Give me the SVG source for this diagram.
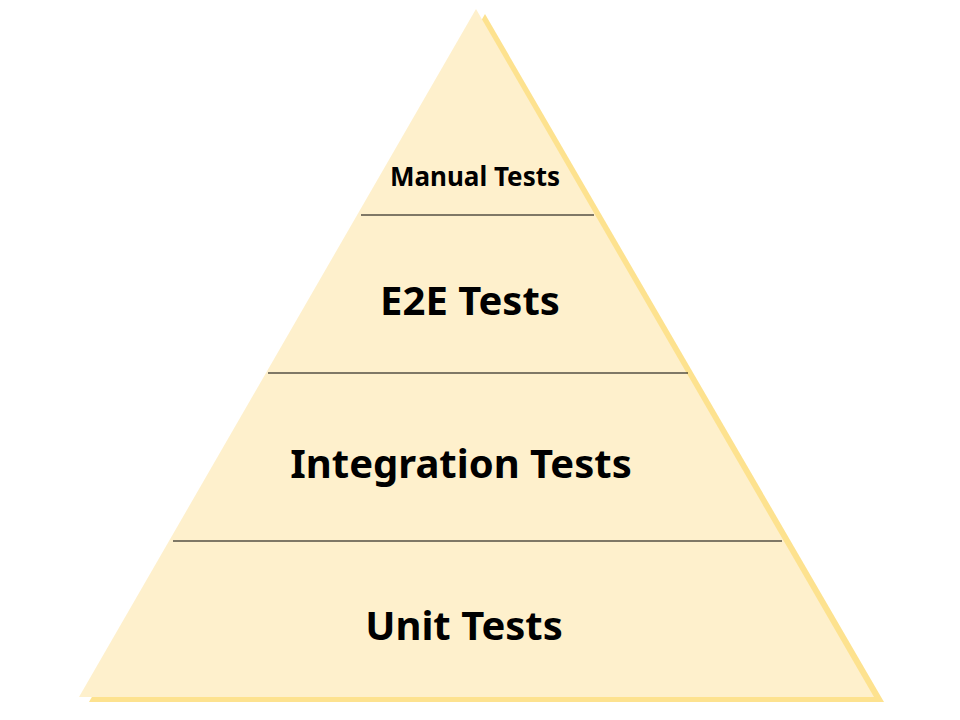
<svg xmlns="http://www.w3.org/2000/svg" width="960" height="720" viewBox="0 0 960 720">
<style>
.t{font-family:"Noto Sans","Open Sans",sans-serif;font-weight:bold;fill:#000;text-anchor:middle}
.l{stroke:#000;stroke-width:1}
</style>
<rect width="960" height="720" fill="#fff"/>
<g id="pyramid">
<polygon points="485,14 884,702 89,702" fill="#fde28f"/>
<polygon points="476,9 874,697 79,697" fill="#fef0cc"/>
</g>
<g id="connectors">
<line class="l" x1="361" y1="215" x2="594" y2="215"/>
<line class="l" x1="268" y1="373" x2="688" y2="373"/>
<line class="l" x1="173" y1="541" x2="782" y2="541"/>
</g>
<g id="manual"><text class="t" x="475" y="186" font-size="26">Manual Tests</text></g>
<g id="e2e"><text class="t" x="470" y="315" font-size="40">E2E Tests</text></g>
<g id="integration"><text class="t" x="461" y="478" font-size="40">Integration Tests</text></g>
<g id="unit"><text class="t" x="464" y="640" font-size="40">Unit Tests</text></g>
</svg>
